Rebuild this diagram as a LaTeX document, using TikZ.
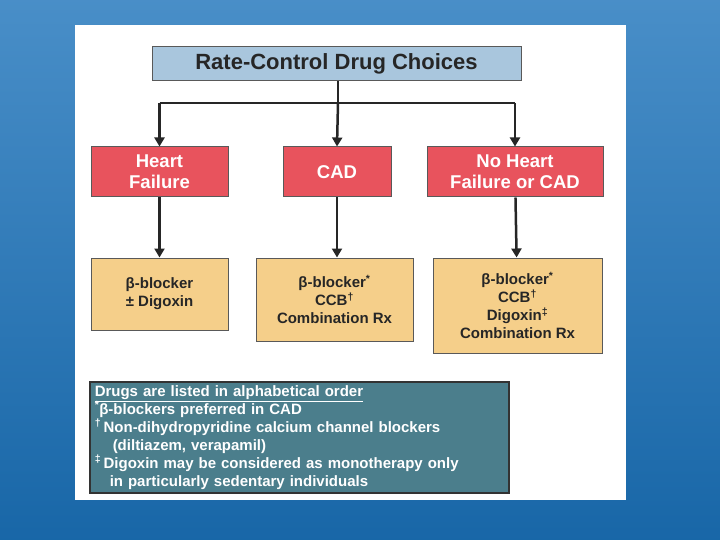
\documentclass[tikz,border=0pt]{standalone}
\usepackage{fontspec}
\setmainfont{Liberation Sans}
\usetikzlibrary{arrows.meta}
\definecolor{bgblue}{HTML}{1B72BA}
\definecolor{titlebox}{HTML}{A9C6DD}
\definecolor{redbox}{HTML}{E8535D}
\definecolor{orangebox}{HTML}{F5CF8A}
\definecolor{legendbox}{HTML}{4B7E8C}
\begin{document}
\begin{tikzpicture}[x=1pt,y=-1pt,
  box/.style={draw=gray!70!black,line width=1pt,align=center,font=\bfseries,inner sep=0pt},
  arr/.style={line width=2.5pt,draw=black!85,-{Triangle[length=9pt,width=10pt]}},
  ln/.style={line width=2.5pt,draw=black!85}]
\useasboundingbox (0,0) rectangle (720,540);
\shade[top color=bgblue!80!white,bottom color=bgblue!90!black] (0,0) rectangle (720,540);
\fill[white] (75,25) rectangle (626,500);
% title
\node[box,fill=titlebox,minimum width=369pt,minimum height=34pt,font=\fontsize{22}{26}\selectfont\bfseries,text=black!85] (T) at (336.5,64) {Rate-Control Drug Choices};
% red boxes
\begin{scope}[every node/.style={box,fill=redbox,text=white,minimum height=50pt,font=\fontsize{18.5}{21}\selectfont\bfseries}]
\node[minimum width=137pt] (HF) at (159.5,172) {Heart\\Failure};
\node[minimum width=108pt] (CAD) at (337,172) {CAD};
\node[minimum width=176pt] (NO) at (515,172) {No Heart\\Failure or CAD};
\end{scope}
% orange boxes
\begin{scope}[every node/.style={box,fill=orangebox,text=black!85,font=\fontsize{15}{18}\selectfont\bfseries}]
\node[minimum width=137pt,minimum height=72pt] (O1) at (159.5,294) {β-blocker\\± Digoxin};
\node[minimum width=157pt,minimum height=83pt] (O2) at (334.5,299.5) {β-blocker\textsuperscript{*}\\CCB\textsuperscript{†}\\Combination Rx};
\node[minimum width=169pt,minimum height=95pt] (O3) at (517.5,305.5) {β-blocker\textsuperscript{*}\\CCB\textsuperscript{†}\\Digoxin\textsuperscript{‡}\\Combination Rx};
\end{scope}
% connectors
\coordinate (J) at (338,103);
\coordinate (JL) at (159.5,103);
\coordinate (JR) at (515,103);
\draw[ln] (T.south -| J) -- (J);
\draw[ln] (JL) -- (JR);
\draw[arr] (JL) -- (HF.north);
\draw[arr] (J) -- (CAD.north);
\draw[arr] (JR) -- (NO.north);
\draw[arr] (HF) -- (O1);
\draw[arr] (CAD.south) -- (CAD.south |- O2.north);
\draw[arr] (NO) -- (O3);
% legend
\node[box,draw=black!80,line width=1.5pt,fill=legendbox,text=white,minimum width=419pt,minimum height=111pt,align=left,anchor=north west,inner xsep=5pt,text width=409pt,font=\fontsize{15}{18}\selectfont\bfseries] (L) at (89,381) {%
\underline{Drugs are listed in alphabetical order}\\
\textsuperscript{*}β-blockers preferred in CAD\\
\textsuperscript{†}\,Non-dihydropyridine calcium channel blockers\\
\hspace*{1.2em}(diltiazem, verapamil)\\
\textsuperscript{‡}\,Digoxin may be considered as monotherapy only\\
\hspace*{1em}in particularly sedentary individuals};
\end{tikzpicture}
\end{document}
